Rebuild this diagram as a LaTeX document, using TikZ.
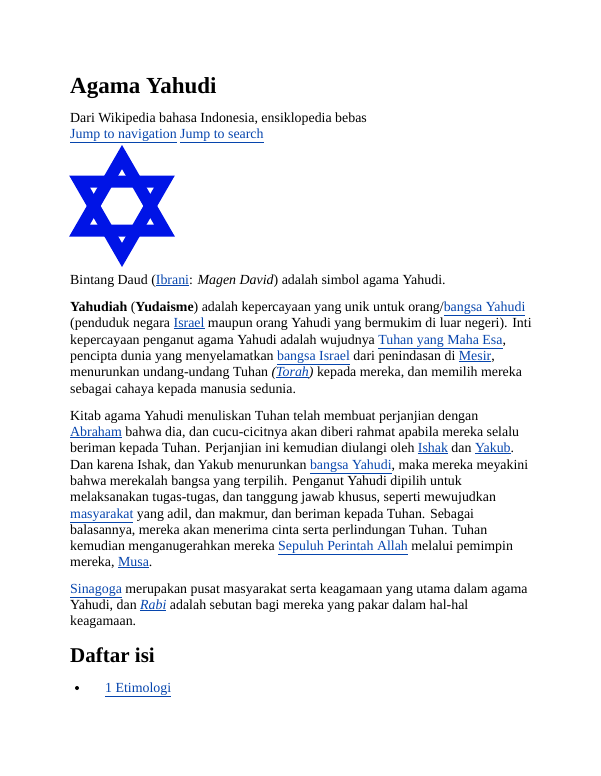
\documentclass[tikz,border=0pt]{standalone}
\usepackage{fontspec}
\setmainfont{Liberation Serif}
\definecolor{linkblue}{RGB}{6,69,173}
\definecolor{starblue}{RGB}{0,20,230}
\newcommand{\lnk}[1]{\textcolor{linkblue}{\underline{#1}}}
\tikzset{
    txt/.style={anchor=base west, inner sep=0pt, font=\fontsize{13.9}{16}\selectfont},
    ttl/.style={anchor=base west, inner sep=0pt, font=\fontsize{23}{26}\selectfont\bfseries},
    hdg/.style={anchor=base west, inner sep=0pt, font=\fontsize{21}{24}\selectfont\bfseries},
}
\begin{document}
\begin{tikzpicture}[x=1pt,y=-1pt]
\useasboundingbox (0,0) rectangle (600,776);
% judul
\node[ttl] (judul) at (70,93) {Agama Yahudi};
\node[txt] (asal) at (70,122) {Dari Wikipedia bahasa Indonesia, ensiklopedia bebas};
\node[txt] (lompat) at (70,138) {\lnk{Jump to navigation} \lnk{Jump to search}};
% bintang daud
\begin{scope}[shift={(122,206)}]
\fill[starblue, even odd rule] (90:-61) -- (210:-61) -- (330:-61) -- cycle
    (90:-37) -- (210:-37) -- (330:-37) -- cycle;
\fill[starblue, even odd rule] (270:-61) -- (30:-61) -- (150:-61) -- cycle
    (270:-37) -- (30:-37) -- (150:-37) -- cycle;
\end{scope}
\node[txt] (keterangan) at (70,284) {Bintang Daud (\lnk{Ibrani}: \textit{Magen David}) adalah simbol agama Yahudi.};
% paragraf 1
\node[txt] (p1a) at (70,311) {\textbf{Yahudiah} (\textbf{Yudaisme}) adalah kepercayaan yang unik untuk orang/\lnk{bangsa Yahudi}};
\node[txt] (p1b) at (70,327) {(penduduk negara \lnk{Israel} maupun orang Yahudi yang bermukim di luar negeri). Inti};
\node[txt] (p1c) at (70,344) {kepercayaan penganut agama Yahudi adalah wujudnya \lnk{Tuhan yang Maha Esa},};
\node[txt] (p1d) at (70,360) {pencipta dunia yang menyelamatkan \lnk{bangsa Israel} dari penindasan di \lnk{Mesir},};
\node[txt] (p1e) at (70,376) {menurunkan undang-undang Tuhan \textit{(\lnk{Torah})} kepada mereka, dan memilih mereka};
\node[txt] (p1f) at (70,393) {sebagai cahaya kepada manusia sedunia.};
% paragraf 2
\node[txt] (p2a) at (70,420) {Kitab agama Yahudi menuliskan Tuhan telah membuat perjanjian dengan};
\node[txt] (p2b) at (70,436) {\lnk{Abraham} bahwa dia, dan cucu-cicitnya akan diberi rahmat apabila mereka selalu};
\node[txt] (p2c) at (70,452) {beriman kepada Tuhan. Perjanjian ini kemudian diulangi oleh \lnk{Ishak} dan \lnk{Yakub}.};
\node[txt] (p2d) at (70,469) {Dan karena Ishak, dan Yakub menurunkan \lnk{bangsa Yahudi}, maka mereka meyakini};
\node[txt] (p2e) at (70,485) {bahwa merekalah bangsa yang terpilih. Penganut Yahudi dipilih untuk};
\node[txt] (p2f) at (70,501) {melaksanakan tugas-tugas, dan tanggung jawab khusus, seperti mewujudkan};
\node[txt] (p2g) at (70,518) {\lnk{masyarakat} yang adil, dan makmur, dan beriman kepada Tuhan. Sebagai};
\node[txt] (p2h) at (70,534) {balasannya, mereka akan menerima cinta serta perlindungan Tuhan. Tuhan};
\node[txt] (p2i) at (70,550) {kemudian menganugerahkan mereka \lnk{Sepuluh Perintah Allah} melalui pemimpin};
\node[txt] (p2j) at (70,566) {mereka, \lnk{Musa}.};
% paragraf 3
\node[txt] (p3a) at (70,593) {\lnk{Sinagoga} merupakan pusat masyarakat serta keagamaan yang utama dalam agama};
\node[txt] (p3b) at (70,609) {Yahudi, dan \textit{\lnk{Rabi}} adalah sebutan bagi mereka yang pakar dalam hal-hal};
\node[txt] (p3c) at (70,625) {keagamaan.};
% daftar isi
\node[hdg] (daftar) at (70,662) {Daftar isi};
\fill (77,688) circle (2);
\node[txt] (etimologi) at (105,692) {\lnk{1 Etimologi}};
\end{tikzpicture}
\end{document}
